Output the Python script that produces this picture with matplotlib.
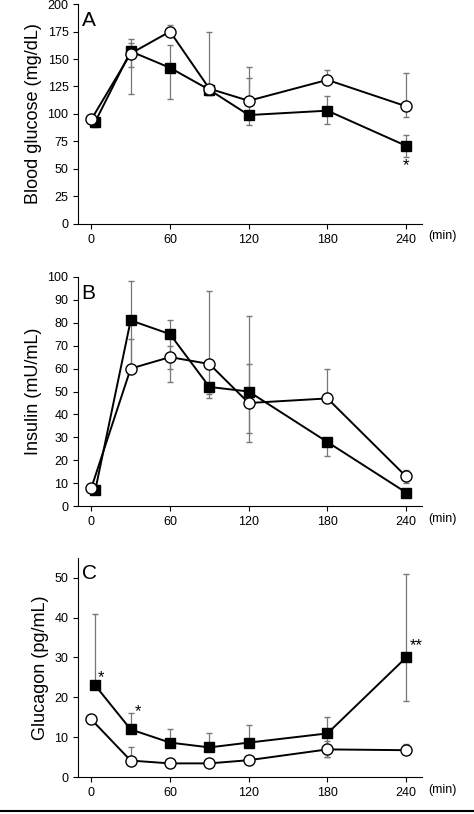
import matplotlib
matplotlib.use("Agg")
import matplotlib.pyplot as plt
import numpy as np

plt.rcParams['font.family'] = ['Liberation Sans', 'DejaVu Sans']
t = [0, 30, 60, 90, 120, 180, 240]
tsq = [3, 30, 60, 90, 120, 180, 240]

a_circ = [95, 155, 175, 123, 112, 131, 107]
a_circ_lo = [3, 37, 0, 6, 0, 0, 10]
a_circ_hi = [3, 13, 6, 52, 31, 9, 30]
a_sq = [93, 157, 142, 122, 99, 103, 71]
a_sq_lo = [5, 14, 28, 5, 9, 12, 10]
a_sq_hi = [3, 8, 21, 3, 34, 13, 10]

b_circ = [8, 60, 65, 62, 45, 47, 13]
b_circ_lo = [0, 0, 5, 13, 17, 0, 3]
b_circ_hi = [0, 13, 5, 32, 17, 13, 3]
b_sq = [7, 81, 75, 52, 50, 28, 6]
b_sq_lo = [0, 20, 21, 5, 18, 6, 0]
b_sq_hi = [0, 17, 6, 0, 33, 0, 0]

c_circ = [14.5, 4.2, 3.5, 3.5, 4.3, 7, 6.8]
c_circ_lo = [0, 0, 0, 0, 0, 2, 0]
c_circ_hi = [0, 3.3, 0, 0, 0, 2, 1.5]
c_sq = [23, 12, 8.7, 7.5, 8.7, 11, 30]
c_sq_lo = [0, 0, 0, 0, 0, 6, 11]
c_sq_hi = [18, 4, 3.3, 3.5, 4.3, 4, 21]

fig = plt.figure(figsize=(4.74, 8.14), dpi=100)
L, W = 0.165, 0.725
axes = [fig.add_axes([L, 0.725, W, 0.27]),
        fig.add_axes([L, 0.378, W, 0.282]),
        fig.add_axes([L, 0.045, W, 0.27])]
panels = [
    (a_circ, a_circ_lo, a_circ_hi, a_sq, a_sq_lo, a_sq_hi, 'Blood glucose (mg/dL)', 200, np.arange(0, 201, 25), 'A'),
    (b_circ, b_circ_lo, b_circ_hi, b_sq, b_sq_lo, b_sq_hi, 'Insulin (mU/mL)', 100, np.arange(0, 101, 10), 'B'),
    (c_circ, c_circ_lo, c_circ_hi, c_sq, c_sq_lo, c_sq_hi, 'Glucagon (pg/mL)', 55, np.arange(0, 51, 10), 'C'),
]
for ax, (cc, cl, ch, ss, sl, sh, lab, ymax, yt, letter) in zip(axes, panels):
    ax.errorbar(tsq, ss, yerr=[sl, sh], fmt='none', ecolor='#777777', elinewidth=0.9, capsize=2.5, zorder=1)
    ax.errorbar(t, cc, yerr=[cl, ch], fmt='none', ecolor='#777777', elinewidth=0.9, capsize=2.5, zorder=1)
    ax.plot(tsq, ss, '-s', color='black', mfc='black', ms=7, lw=1.4, zorder=3)
    ax.plot(t, cc, '-o', color='black', mfc='white', ms=8, lw=1.4, zorder=4)
    ax.set_xlim(-10, 252)
    ax.set_ylim(0, ymax)
    ax.set_yticks(yt)
    ax.set_xticks([0, 60, 120, 180, 240])
    ax.set_ylabel(lab, fontsize=13)
    for s in ['top', 'right']:
        ax.spines[s].set_visible(False)
    ax.tick_params(labelsize=9)
    ax.text(0.01, 0.97, letter, transform=ax.transAxes, fontsize=15, va='top')
    ax.text(1.02, -0.03, '(min)', transform=ax.transAxes, fontsize=9, va='top', ha='left')

axes[0].text(240, 60, '*', ha='center', va='top', fontsize=12)
axes[2].text(5, 25, '*', ha='left', va='center', fontsize=12)
axes[2].text(33, 16.5, '*', ha='left', va='center', fontsize=12)
axes[2].text(243, 33, '**', ha='left', va='center', fontsize=12)
fig.add_artist(plt.Line2D([0, 1], [0.004, 0.004], color='black', lw=1.5))
fig.savefig('out.png', dpi=100)
